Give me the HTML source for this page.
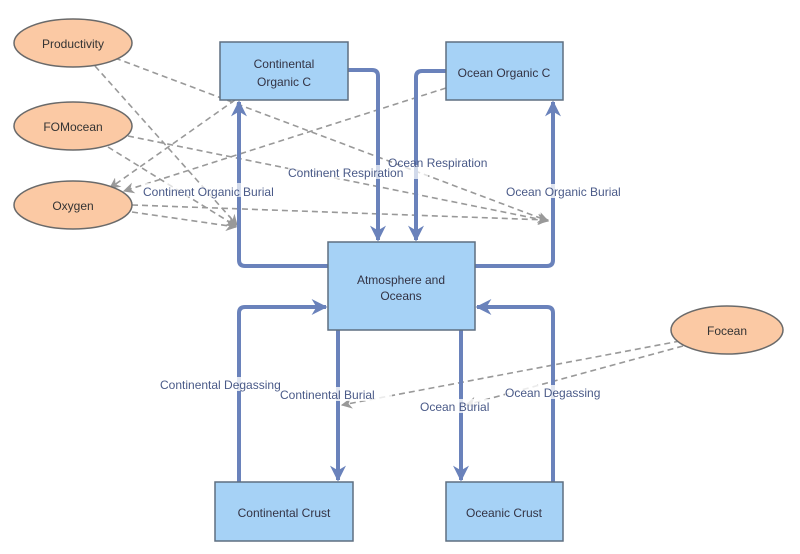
<!DOCTYPE html>
<html><head><style>
html,body{margin:0;padding:0;background:#fff;width:800px;height:554px;overflow:hidden}
svg text{font-family:"Liberation Sans",sans-serif;font-size:12px;fill:#4a5a88}
</style></head><body>
<svg width="800" height="554" xmlns="http://www.w3.org/2000/svg">
<defs>
<marker id="a" viewBox="0 0 10 10" refX="9" refY="5" markerWidth="4" markerHeight="4" orient="auto"><path d="M0,0L10,5L0,10L3,5z" fill="#6a82bb"/></marker>
<marker id="g" viewBox="0 0 10 10" refX="9" refY="5" markerWidth="7" markerHeight="7" orient="auto"><path d="M0,0L10,5L0,10L3,5z" fill="#999"/></marker>
</defs>
<g stroke="#999" stroke-width="1.6" stroke-dasharray="6,4" fill="none" marker-end="url(#g)">
<line x1="115" y1="58" x2="548" y2="221"/>
<line x1="95" y1="66" x2="237" y2="225"/>
<line x1="128" y1="136" x2="548" y2="221"/>
<line x1="108" y1="147" x2="236" y2="226"/>
<line x1="132" y1="205" x2="548" y2="220"/>
<line x1="132" y1="212" x2="236" y2="227"/>
<line x1="235" y1="100" x2="110" y2="188"/>
<line x1="446" y1="88" x2="124" y2="191"/>
<line x1="680" y1="341" x2="342" y2="405"/>
<line x1="683" y1="346" x2="466" y2="405"/>
</g>
<g stroke="#6a82bb" stroke-width="4" fill="none" marker-end="url(#a)" stroke-linejoin="round">
<path d="M348,70 H372 Q378,70 378,76 V240"/>
<path d="M446,71 H422 Q416,71 416,77 V240"/>
<path d="M328,266 H245 Q239,266 239,260 V102"/>
<path d="M475,266 H547 Q553,266 553,260 V102"/>
<path d="M239,482 V313 Q239,307 245,307 H326"/>
<path d="M553,482 V313 Q553,307 547,307 H477"/>
<path d="M338,330 V480"/>
<path d="M461,330 V480"/>
</g>
<g fill="#a6d2f6" stroke="#5f6f80" stroke-width="1.5">
<rect x="220" y="42" width="128" height="58"/>
<rect x="446" y="42" width="117" height="58"/>
<rect x="328" y="242" width="147" height="88"/>
<rect x="215" y="482" width="138" height="59"/>
<rect x="446" y="482" width="117" height="59"/>
</g>
<g fill="#fbc9a4" stroke="#6a6a6a" stroke-width="1.5">
<ellipse cx="73" cy="43" rx="59" ry="24"/>
<ellipse cx="73" cy="126" rx="59" ry="24"/>
<ellipse cx="73" cy="205" rx="59" ry="24"/>
<ellipse cx="727" cy="330" rx="56" ry="24"/>
</g>
<g text-anchor="middle">
<text x="73" y="48" style="fill:#333">Productivity</text>
<text x="73" y="131" style="fill:#333">FOMocean</text>
<text x="73" y="210" style="fill:#333">Oxygen</text>
<text x="727" y="335" style="fill:#333">Focean</text>
<text x="284" y="68" style="fill:#334">Continental</text>
<text x="284" y="86" style="fill:#334">Organic C</text>
<text x="504" y="77" style="fill:#334">Ocean Organic C</text>
<text x="401" y="284" style="fill:#334">Atmosphere and</text>
<text x="401" y="300" style="fill:#334">Oceans</text>
<text x="284" y="517" style="fill:#334">Continental Crust</text>
<text x="504" y="517" style="fill:#334">Oceanic Crust</text>
</g>
<g>
<rect x="143" y="183" width="152" height="14" fill="#fff" opacity="0.7"/>
<text x="143" y="196">Continent Organic Burial</text>
<rect x="288" y="165" width="140" height="14" fill="#fff" opacity="0.7"/>
<text x="288" y="177">Continent Respiration</text>
<text x="388" y="167">Ocean Respiration</text>
<rect x="506" y="184" width="134" height="14" fill="#fff" opacity="0.8"/>
<text x="506" y="196">Ocean Organic Burial</text>
<rect x="160" y="377" width="138" height="14" fill="#fff" opacity="0.8"/>
<text x="160" y="389">Continental Degassing</text>
<rect x="280" y="387" width="112" height="14" fill="#fff" opacity="0.8"/>
<text x="280" y="399">Continental Burial</text>
<rect x="420" y="399" width="80" height="14" fill="#fff" opacity="0.8"/>
<text x="420" y="411">Ocean Burial</text>
<rect x="505" y="385" width="108" height="14" fill="#fff" opacity="0.8"/>
<text x="505" y="397">Ocean Degassing</text>
</g>
</svg>
</body></html>
